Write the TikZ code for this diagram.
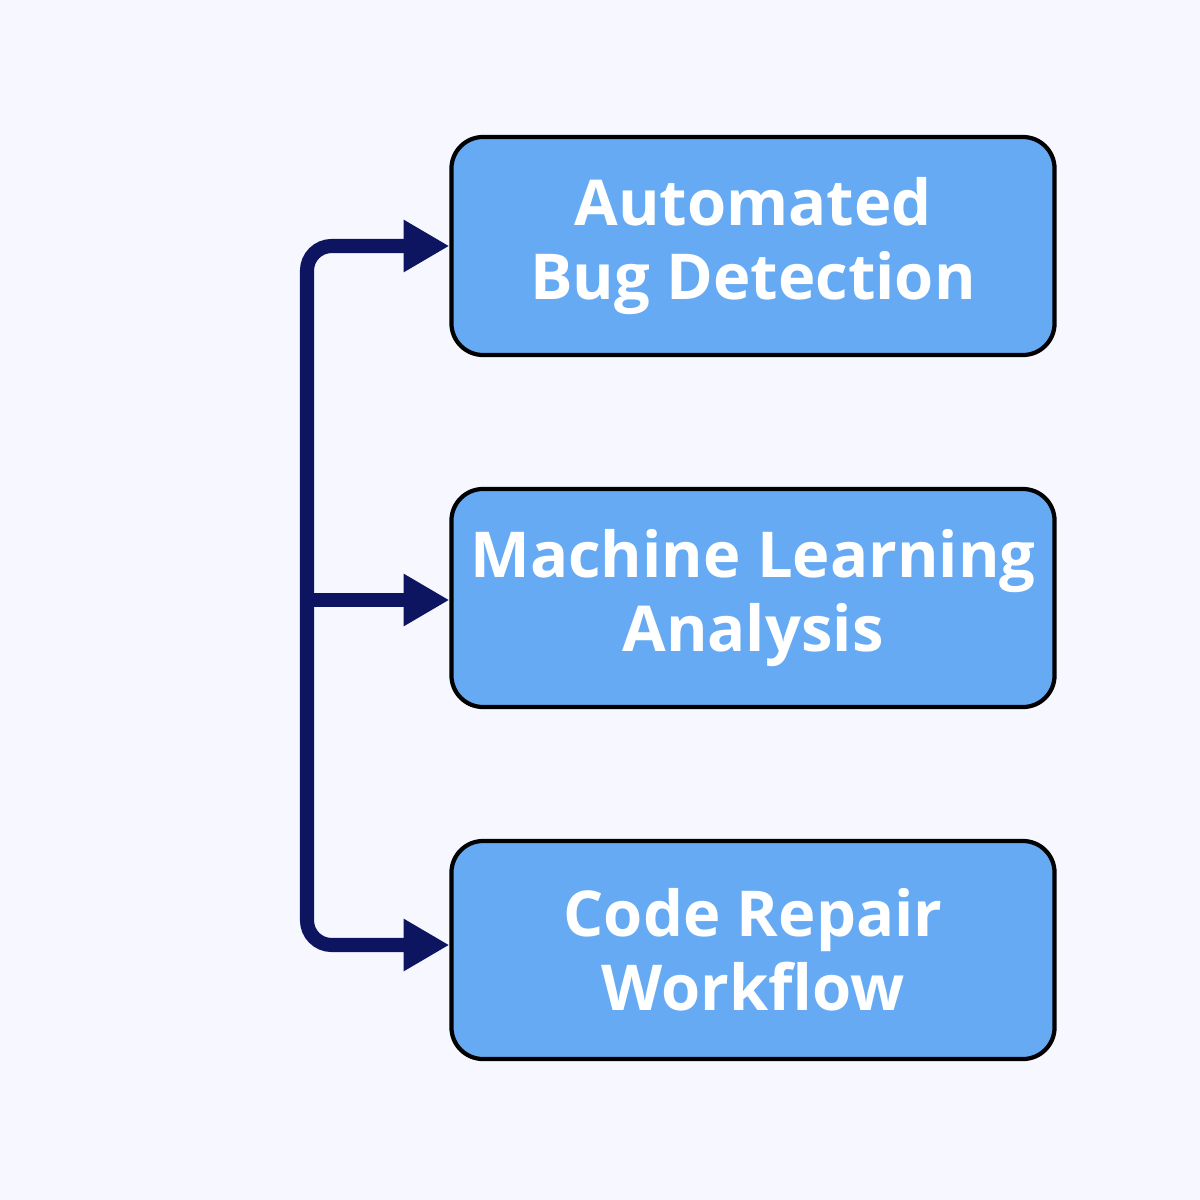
\documentclass[tikz,border=0pt]{standalone}
\usepackage{fontspec}
\setmainfont{Open Sans}
\usetikzlibrary{arrows.meta}
\definecolor{boxfill}{HTML}{66AAF4}
\definecolor{navy}{HTML}{0D1560}
\begin{document}
\begin{tikzpicture}[x=0.01cm,y=-0.01cm,
  box/.style={draw=black,line width=1.2pt,fill=boxfill,rounded corners=9pt,
    minimum width=603\pgflinewidth*0+171.5pt,minimum height=62pt,align=center,
    text=white,font=\bfseries\fontsize{18}{21}\selectfont},
  conn/.style={draw=navy,line width=4pt,-{Triangle[length=13pt,width=14pt]}}]
\useasboundingbox (0,0) rectangle (1200,1200);
\fill[white!97!blue] (0,0) rectangle (1200,1200);
\node[box] (a) at (753,246) {Automated\\Bug Detection};
\node[box] (b) at (753,598) {Machine Learning\\Analysis};
\node[box] (c) at (753,950) {Code Repair\\Workflow};
\coordinate (j) at (307,600);
\draw[conn,{Triangle[length=13pt,width=14pt]}-{Triangle[length=13pt,width=14pt]},rounded corners=7pt]
  (a.west |- 0,246) -| (j) |- (c.west |- 0,945);
\draw[conn] (j) -- (b.west |- 0,600);
\end{tikzpicture}
\end{document}
